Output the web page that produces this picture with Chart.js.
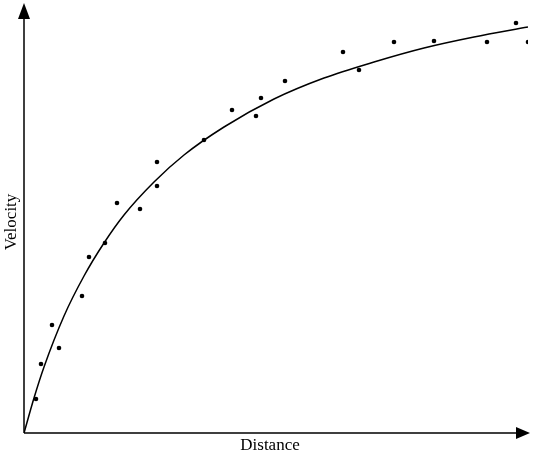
<!DOCTYPE html>
<html>
<head>
<meta charset="utf-8">
<script src="https://cdn.jsdelivr.net/npm/chart.js@4"></script>
<style>
  html, body { margin: 0; padding: 0; background: #fff; }
  #wrap { width: 542px; height: 455px; }
</style>
</head>
<body>
<div id="wrap"><canvas id="grafico"></canvas></div>
<script>
// Measured points (distance, velocity), arbitrary units
const distance = [12, 17, 28, 35, 58, 65, 81, 93, 116, 133, 133, 180, 208, 232, 237, 261, 319, 335, 370, 410, 463, 492, 504];
const velocity = [34, 69, 108, 85, 137, 176, 190, 230, 224, 247, 271, 293, 323, 317, 335, 352, 381, 363, 391, 392, 391, 410, 391];

// Fitted curve
const curveX = [0, 10, 20, 40, 60, 80, 100, 130, 160, 200, 250, 300, 350, 400, 450, 504];
const curveY = [0, 35, 66, 117, 157, 190, 218, 251, 278, 306, 334, 355, 371, 385, 396, 406];

const xMax = 504;
const yMax = 428;

// Axes with arrowheads and axis titles
const axesPlugin = {
  id: 'axes',
  afterDraw(chart) {
    const { ctx, chartArea: a } = chart;
    ctx.save();
    ctx.strokeStyle = '#000';
    ctx.fillStyle = '#000';
    ctx.lineWidth = 1.5;
    ctx.beginPath();
    ctx.moveTo(a.left, a.bottom);
    ctx.lineTo(a.right - 6, a.bottom);
    ctx.moveTo(a.left, a.bottom);
    ctx.lineTo(a.left, a.top + 8);
    ctx.stroke();
    // arrow x
    ctx.beginPath();
    ctx.moveTo(a.right + 2, a.bottom);
    ctx.lineTo(a.right - 12, a.bottom - 6);
    ctx.lineTo(a.right - 12, a.bottom + 6);
    ctx.closePath();
    ctx.fill();
    // arrow y
    ctx.beginPath();
    ctx.moveTo(a.left, a.top - 2);
    ctx.lineTo(a.left - 6, a.top + 14);
    ctx.lineTo(a.left + 6, a.top + 14);
    ctx.closePath();
    ctx.fill();

    ctx.font = '17px "Liberation Serif", "DejaVu Serif", serif';
    ctx.textAlign = 'center';
    ctx.textBaseline = 'middle';
    ctx.fillText('Distance', 270, 446);
    ctx.translate(12, 222);
    ctx.rotate(-Math.PI / 2);
    ctx.fillText('Velocity', 0, 0);
    ctx.restore();
  }
};

new Chart(document.getElementById('grafico'), {
  type: 'scatter',
  data: {
    datasets: [
      {
        label: 'Curve',
        data: curveX.map((x, i) => ({ x: x, y: curveY[i] })),
        showLine: true,
        borderColor: '#000',
        borderWidth: 1.5,
        pointRadius: 0,
        tension: 0.4,
        cubicInterpolationMode: 'monotone'
      },
      {
        label: 'Data',
        data: distance.map((x, i) => ({ x: x, y: velocity[i] })),
        backgroundColor: '#000',
        borderColor: '#000',
        pointRadius: 2.3,
        pointBorderWidth: 0
      }
    ]
  },
  options: {
    responsive: true,
    maintainAspectRatio: false,
    animation: false,
    layout: { padding: { left: 24, right: 14, top: 5, bottom: 22 } },
    plugins: { legend: { display: false }, tooltip: { enabled: false } },
    scales: {
      x: { type: 'linear', min: 0, max: xMax, display: false },
      y: { type: 'linear', min: 0, max: yMax, display: false }
    }
  },
  plugins: [axesPlugin]
});
</script>
</body>
</html>
